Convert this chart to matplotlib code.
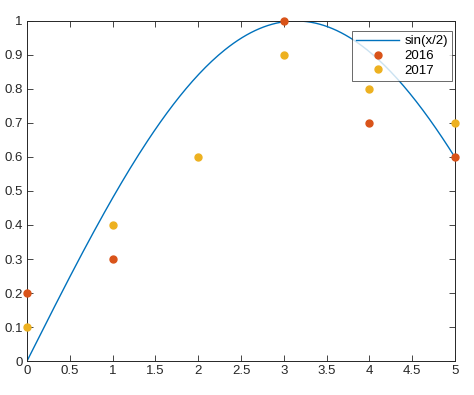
import matplotlib
matplotlib.use("Agg")
import matplotlib.pyplot as plt
import numpy as np

# data
x_curve = np.linspace(0, 5, 200)
y_curve = np.sin(x_curve / 2)

years_x = [0, 1, 2, 3, 4, 5]
y_2016 = [0.2, 0.3, np.nan, 1.0, 0.7, 0.6]
y_2017 = [0.1, 0.4, 0.6, 0.9, 0.8, 0.7]

x_ticks = [0, 0.5, 1, 1.5, 2, 2.5, 3, 3.5, 4, 4.5, 5]
x_tick_labels = ["0", "0.5", "1", "1.5", "2", "2.5", "3", "3.5", "4", "4.5", "5"]
y_ticks = [0, 0.1, 0.2, 0.3, 0.4, 0.5, 0.6, 0.7, 0.8, 0.9, 1]
y_tick_labels = ["0", "0.1", "0.2", "0.3", "0.4", "0.5", "0.6", "0.7", "0.8", "0.9", "1"]

plt.rcParams["font.family"] = ["Liberation Sans", "DejaVu Sans"]

fig = plt.figure(figsize=(4.74, 3.95), dpi=100)
ax = fig.add_axes([0.057, 0.086, 0.903, 0.861])

ax.plot(x_curve, y_curve, color="#0072BD", linewidth=1.0, label="sin(x/2)")
ax.plot(years_x, y_2016, "o", color="#D95319", markersize=5, label="2016",
        clip_on=False, zorder=3)
ax.plot(years_x, y_2017, "o", color="#EDB120", markersize=5, label="2017",
        clip_on=False, zorder=3)

ax.set_xlim(0, 5)
ax.set_ylim(0, 1)
ax.set_xticks(x_ticks)
ax.set_xticklabels(x_tick_labels)
ax.set_yticks(y_ticks)
ax.set_yticklabels(y_tick_labels)

ax.tick_params(direction="in", top=True, right=True, length=4, width=0.6,
               labelsize=9.5, colors="#262626", pad=3)
for s in ax.spines.values():
    s.set_color("#262626")
    s.set_linewidth(0.7)

leg = ax.legend(loc="upper right", bbox_to_anchor=(0.993, 0.97), fontsize=9.5,
                frameon=True, fancybox=False, edgecolor="#262626",
                borderpad=0.3, labelspacing=0.2, handlelength=3.3,
                handletextpad=0.4, borderaxespad=0)
leg.get_frame().set_linewidth(0.6)

fig.savefig("out.png", dpi=100, facecolor="white")
